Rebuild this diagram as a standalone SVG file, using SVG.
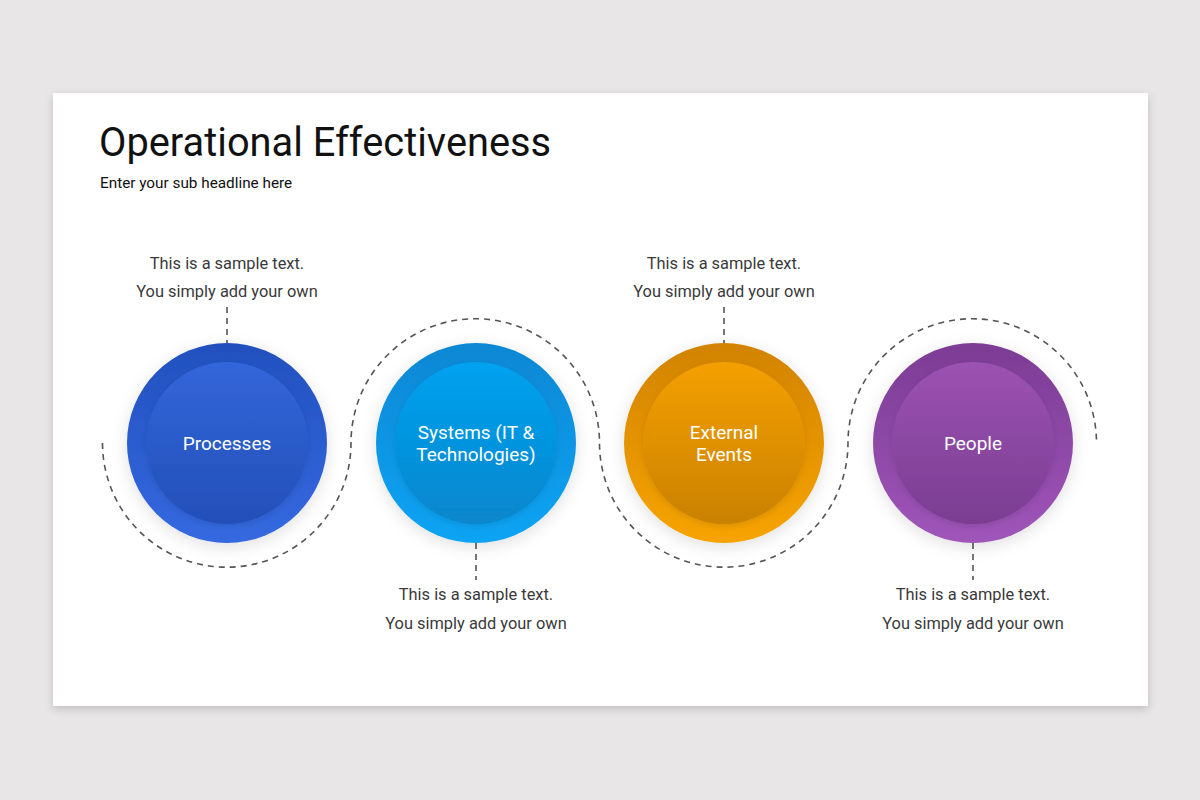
<svg xmlns="http://www.w3.org/2000/svg" width="1200" height="800" viewBox="0 0 1200 800">
<defs>
<filter id="cardShadow" x="-5%" y="-5%" width="110%" height="115%">
<feDropShadow dx="0" dy="3" stdDeviation="4" flood-color="#000" flood-opacity="0.18"/>
</filter>
<filter id="ballShadow" x="-30%" y="-30%" width="160%" height="160%">
<feDropShadow dx="0" dy="4" stdDeviation="8" flood-color="#000" flood-opacity="0.12"/>
</filter>
<filter id="innerShadow" x="-20%" y="-20%" width="140%" height="140%">
<feDropShadow dx="0" dy="2" stdDeviation="3" flood-color="#000" flood-opacity="0.10"/>
</filter>
<linearGradient id="o1" x1="0" y1="0" x2="0" y2="1"><stop offset="0" stop-color="#2250be"/><stop offset="1" stop-color="#3569e0"/></linearGradient>
<linearGradient id="i1" x1="0" y1="0" x2="0" y2="1"><stop offset="0" stop-color="#3366da"/><stop offset="1" stop-color="#234fb8"/></linearGradient>
<linearGradient id="o2" x1="0" y1="0" x2="0" y2="1"><stop offset="0" stop-color="#0787d4"/><stop offset="1" stop-color="#0aa4f4"/></linearGradient>
<linearGradient id="i2" x1="0" y1="0" x2="0" y2="1"><stop offset="0" stop-color="#05a2f0"/><stop offset="1" stop-color="#0786cc"/></linearGradient>
<linearGradient id="o3" x1="0" y1="0" x2="0" y2="1"><stop offset="0" stop-color="#d28300"/><stop offset="1" stop-color="#f7a400"/></linearGradient>
<linearGradient id="i3" x1="0" y1="0" x2="0" y2="1"><stop offset="0" stop-color="#f4a000"/><stop offset="1" stop-color="#ca8100"/></linearGradient>
<linearGradient id="o4" x1="0" y1="0" x2="0" y2="1"><stop offset="0" stop-color="#7c3c94"/><stop offset="1" stop-color="#9f55b9"/></linearGradient>
<linearGradient id="i4" x1="0" y1="0" x2="0" y2="1"><stop offset="0" stop-color="#9c52b2"/><stop offset="1" stop-color="#7a3d92"/></linearGradient>
</defs>
<style>
.dash{fill:none;stroke:#555;stroke-width:1.6;stroke-dasharray:6 5}
.desc{font-family:Roboto,"Liberation Sans",sans-serif;font-size:16.4px;fill:#3a3a3a;text-anchor:middle}
.lbl{font-family:Roboto,"Liberation Sans",sans-serif;font-size:19px;fill:#ffffff;text-anchor:middle}
</style>
<rect x="0" y="0" width="1200" height="800" fill="#e8e6e7"/>
<rect x="53" y="93" width="1095" height="613" fill="#ffffff" filter="url(#cardShadow)"/>
<text x="99" y="156" font-family="Roboto,'Liberation Sans',sans-serif" font-size="39.8" fill="#111">Operational Effectiveness</text>
<text x="100" y="188" font-family="Roboto,'Liberation Sans',sans-serif" font-size="15.3" fill="#111">Enter your sub headline here</text>

<g id="connectors">
<path class="dash" d="M102.5,443 A124.25,124.25 0 0 0 351,443 A124.25,124.25 0 0 1 599.5,443 A124.25,124.25 0 0 0 848,443 A124.25,124.25 0 0 1 1096.5,443"/>
<line class="dash" x1="227" y1="307" x2="227" y2="343"/>
<line class="dash" x1="476" y1="543" x2="476" y2="580"/>
<line class="dash" x1="724" y1="307" x2="724" y2="343"/>
<line class="dash" x1="973" y1="543" x2="973" y2="580"/>
</g>

<g id="node-processes">
<circle cx="227" cy="443" r="100" fill="url(#o1)" filter="url(#ballShadow)"/>
<circle cx="227" cy="443" r="81" fill="url(#i1)" filter="url(#innerShadow)"/>
<text class="lbl" x="227" y="450">Processes</text>
</g>
<g id="node-systems">
<circle cx="476" cy="443" r="100" fill="url(#o2)" filter="url(#ballShadow)"/>
<circle cx="476" cy="443" r="81" fill="url(#i2)" filter="url(#innerShadow)"/>
<text class="lbl" x="476" y="439">Systems (IT &amp;</text>
<text class="lbl" x="476" y="461">Technologies)</text>
</g>
<g id="node-external">
<circle cx="724" cy="443" r="100" fill="url(#o3)" filter="url(#ballShadow)"/>
<circle cx="724" cy="443" r="81" fill="url(#i3)" filter="url(#innerShadow)"/>
<text class="lbl" x="724" y="439">External</text>
<text class="lbl" x="724" y="461">Events</text>
</g>
<g id="node-people">
<circle cx="973" cy="443" r="100" fill="url(#o4)" filter="url(#ballShadow)"/>
<circle cx="973" cy="443" r="81" fill="url(#i4)" filter="url(#innerShadow)"/>
<text class="lbl" x="973" y="450">People</text>
</g>

<g id="desc-1">
<text class="desc" x="227" y="268.5">This is a sample text.</text>
<text class="desc" x="227" y="297">You simply add your own</text>
</g>
<g id="desc-2">
<text class="desc" x="476" y="600">This is a sample text.</text>
<text class="desc" x="476" y="629">You simply add your own</text>
</g>
<g id="desc-3">
<text class="desc" x="724" y="268.5">This is a sample text.</text>
<text class="desc" x="724" y="297">You simply add your own</text>
</g>
<g id="desc-4">
<text class="desc" x="973" y="600">This is a sample text.</text>
<text class="desc" x="973" y="629">You simply add your own</text>
</g>
</svg>
